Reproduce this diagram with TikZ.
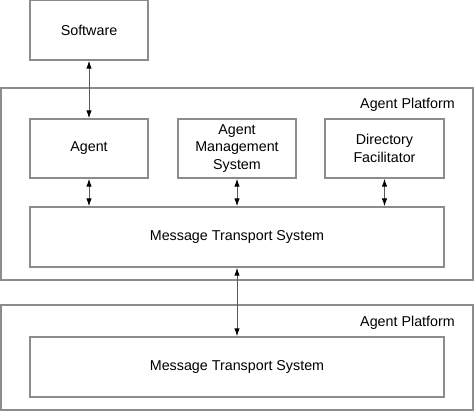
\documentclass[tikz,border=0pt]{standalone}
\usepackage{fontspec}
\setmainfont{Liberation Sans}
\usetikzlibrary{arrows.meta}
\begin{document}
\begin{tikzpicture}[x=1pt,y=-1pt,
  box/.style={draw=black!45, line width=1.4pt, fill=white, inner sep=0pt, font=\fontsize{14.3}{17.5}\selectfont, align=center},
  plat/.style={draw=black!45, line width=1.4pt, inner sep=0pt},
  lbl/.style={font=\fontsize{14.3}{17.5}\selectfont, inner sep=0pt, anchor=east},
  link/.style={draw=black!65, line width=1pt, {Latex[length=8pt,width=5.5pt,color=black]}-{Latex[length=8pt,width=5.5pt,color=black]}}]
\useasboundingbox (0,0) rectangle (474,412);
\node[plat, minimum width=472, minimum height=192] (p1) at (237,184) {};
\node[plat, minimum width=472, minimum height=105] (p2) at (237,357.5) {};
\node[lbl] (l1) at (455,105) {Agent Platform};
\node[lbl] (l2) at (455,323) {Agent Platform};
\node[box, minimum width=118, minimum height=60] (sw) at (89,30) {Software};
\node[box, minimum width=118, minimum height=59] (ag) at (89,148.5) {Agent};
\node[box, minimum width=118, minimum height=59] (ams) at (237,148.5) {Agent\\Management\\System};
\node[box, minimum width=119, minimum height=59] (df) at (384.5,148.5) {Directory\\Facilitator};
\node[box, minimum width=414, minimum height=60] (mts1) at (237,237) {Message Transport System};
\node[box, minimum width=414, minimum height=60] (mts2) at (237,367) {Message Transport System};
\draw[link] (sw.south) -- (ag.north);
\draw[link] (ag.south) -- (ag.south |- mts1.north);
\draw[link] (ams.south) -- (ams.south |- mts1.north);
\draw[link] (df.south) -- (df.south |- mts1.north);
\draw[link] (mts1.south) -- (mts2.north);
\end{tikzpicture}
\end{document}
